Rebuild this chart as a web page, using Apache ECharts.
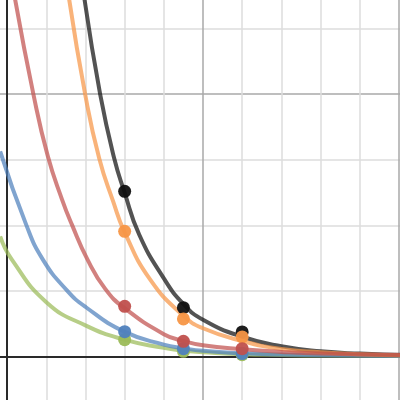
<!DOCTYPE html>
<html>
<head>
<meta charset="utf-8">
<script src="https://cdn.jsdelivr.net/npm/echarts@6/dist/echarts.min.js"></script>
<style>
html,body{margin:0;padding:0;background:#fff;width:400px;height:400px;overflow:hidden;position:relative;}
#chart{position:absolute;left:-32.14px;top:-36.6px;width:469.64px;height:459px;}
</style>
</head>
<body>
<div id="chart"></div>
<script>
// sample x positions of the dots
const dotX = [3, 4.5, 6];
// dot values per series
const blackDots  = [2.518, 0.744, 0.374];
const orangeDots = [1.908, 0.572, 0.297];
const redDots    = [0.764, 0.230, 0.119];
const blueDots   = [0.378, 0.119, 0.043];
const greenDots  = [0.256, 0.078, 0.027];

// curves: [x, y]
const blackCurve = [[1.975,5.442],[2.376,3.993],[2.734,3.017],[2.989,2.518],[3.37,1.86],[4.0,1.19],[4.5,0.80],[5.0,0.56],[6.0,0.30],[7.0,0.154],[8.0,0.078],[9.0,0.043],[10.2,0.02]];
const orangeCurve = [[1.584,5.442],[1.993,3.993],[2.351,3.017],[2.708,2.36],[2.989,1.908],[3.653,1.171],[4.5,0.62],[5.0,0.43],[6.0,0.235],[7.0,0.114],[8.0,0.065],[9.0,0.035],[10.2,0.015]];
const redCurve = [[0.204,5.442],[0.672,3.993],[1.035,3.06],[1.397,2.40],[1.653,2.01],[2.052,1.477],[2.504,1.03],[2.989,0.74],[4.0,0.34],[4.5,0.235],[5.0,0.17],[6.0,0.11],[7.0,0.069],[8.0,0.043],[10.2,0.02]];
const blueCurve = [[-0.179,3.128],[0.485,2.010],[0.912,1.477],[1.525,1.008],[2.011,0.75],[2.989,0.378],[4.0,0.18],[4.5,0.125],[5.0,0.085],[6.0,0.048],[7.0,0.03],[8.0,0.018],[10.2,0.008]];
const greenCurve = [[-0.179,1.832],[0.120,1.477],[1.014,0.82],[2.011,0.47],[2.989,0.256],[4.0,0.13],[4.5,0.085],[5.0,0.065],[6.0,0.035],[7.0,0.022],[8.0,0.013],[10.2,0.006]];

const colors = {black:'#111111', orange:'#f79646', red:'#c0504d', blue:'#4f81bd', green:'#9bbb59'};

function lineSeries(data, color){
  return {type:'line', data:data, smooth:0.5, showSymbol:false, symbol:'none',
    lineStyle:{color:color, width:4, opacity:0.72}, z:3, silent:true, animation:false};
}
function dotSeries(vals, color){
  return {type:'scatter', data:dotX.map((x,i)=>[x, vals[i]]), symbolSize:13,
    itemStyle:{color:color, opacity:0.95}, z:5, silent:true, animation:false};
}

const minorC = '#dcdcdc', majorC = '#a9a9a9';
const chart = echarts.init(document.getElementById('chart'), null, {renderer:'canvas'});
chart.setOption({
  backgroundColor:'#ffffff',
  animation:false,
  grid:{left:0, right:0, top:0, bottom:0, containLabel:false},
  xAxis:{type:'value', min:-1, max:11, interval:1,
    axisLine:{show:true, onZero:true, lineStyle:{color:'#2a2a2a', width:2}},
    axisTick:{show:false}, axisLabel:{show:false},
    splitLine:{show:true, lineStyle:{color:[minorC, majorC, minorC, minorC, minorC], width:1.5}}},
  yAxis:{type:'value', min:-1, max:6, interval:1,
    axisLine:{show:true, onZero:true, lineStyle:{color:'#2a2a2a', width:2}},
    axisTick:{show:false}, axisLabel:{show:false},
    splitLine:{show:true, lineStyle:{color:[minorC, majorC, minorC, minorC], width:1.5}}},
  series:[
    lineSeries(greenCurve, colors.green),
    lineSeries(blueCurve, colors.blue),
    lineSeries(blackCurve, colors.black),
    lineSeries(orangeCurve, colors.orange),
    lineSeries(redCurve, colors.red),
    dotSeries(greenDots, colors.green),
    dotSeries(blueDots, colors.blue),
    dotSeries(blackDots, colors.black),
    dotSeries(orangeDots, colors.orange),
    dotSeries(redDots, colors.red)
  ]
});
</script>
</body>
</html>
